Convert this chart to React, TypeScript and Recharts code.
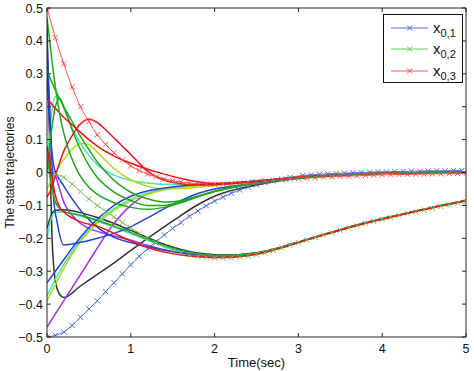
import React from 'react';
import { LineChart, Line, XAxis, YAxis } from 'recharts';

type Pt = [number, number];

const FONT = '"Liberation Sans", Arial, Helvetica, sans-serif';

const xTicks = [0, 1, 2, 3, 4, 5];
const yTicks = [-0.5, -0.4, -0.3, -0.2, -0.1, 0, 0.1, 0.2, 0.3, 0.4, 0.5];
const legendLabels = ['0,1', '0,2', '0,3'];

// ---- marked trajectories (x markers) ----
const redMarked: Pt[] = [[0,0.5],[0.1,0.41],[0.2,0.33],[0.3,0.26],[0.4,0.2],[0.5,0.155],[0.6,0.115],[0.7,0.085],[0.8,0.06],[0.9,0.038],[1.0,0.02],[1.1,0.006],[1.2,-0.005],[1.3,-0.013],[1.4,-0.02],[1.5,-0.025],[1.6,-0.029],[1.7,-0.032],[1.8,-0.034],[1.9,-0.035],[2.0,-0.036],[2.1,-0.035],[2.2,-0.034],[2.3,-0.032],[2.4,-0.03],[2.5,-0.028],[2.6,-0.026],[2.7,-0.024],[2.8,-0.022],[2.9,-0.02],[3.0,-0.019],[3.1,-0.017],[3.2,-0.016],[3.3,-0.014],[3.4,-0.013],[3.5,-0.012],[3.6,-0.011],[3.7,-0.01],[3.8,-0.009],[3.9,-0.008],[4.0,-0.007],[4.1,-0.007],[4.2,-0.006],[4.3,-0.006],[4.4,-0.005],[4.5,-0.005],[4.6,-0.004],[4.7,-0.004],[4.8,-0.003],[4.9,-0.003],[5.0,-0.003]];
const blueMarked: Pt[] = [[0,-0.5],[0.1,-0.495],[0.2,-0.485],[0.3,-0.465],[0.4,-0.44],[0.5,-0.415],[0.6,-0.39],[0.7,-0.362],[0.8,-0.335],[0.9,-0.308],[1.0,-0.28],[1.1,-0.255],[1.2,-0.232],[1.3,-0.21],[1.4,-0.19],[1.5,-0.17],[1.6,-0.152],[1.7,-0.133],[1.8,-0.117],[1.9,-0.101],[2.0,-0.087],[2.1,-0.075],[2.2,-0.063],[2.3,-0.053],[2.4,-0.044],[2.5,-0.037],[2.6,-0.031],[2.7,-0.025],[2.8,-0.02],[2.9,-0.015],[3.05,-0.009],[3.15,-0.007],[3.25,-0.005],[3.35,-0.004],[3.45,-0.003],[3.55,-0.002],[3.65,-0.001],[3.75,0],[3.85,0.001],[3.95,0.002],[4.05,0.002],[4.15,0.003],[4.25,0.003],[4.35,0.004],[4.45,0.004],[4.55,0.005],[4.65,0.005],[4.75,0.005],[4.85,0.006],[4.95,0.006]];
const greenMarked: Pt[] = [[0,0],[0.1,-0.005],[0.2,-0.015],[0.3,-0.035],[0.4,-0.058],[0.5,-0.08],[0.6,-0.1],[0.7,-0.118],[0.8,-0.135],[0.9,-0.152],[1.0,-0.168],[1.1,-0.185],[1.2,-0.2],[1.3,-0.214],[1.4,-0.226],[1.5,-0.236],[1.6,-0.244],[1.7,-0.25],[1.8,-0.255],[1.9,-0.258],[2.0,-0.26],[2.1,-0.26],[2.2,-0.259],[2.3,-0.257],[2.4,-0.254],[2.5,-0.25],[2.6,-0.244],[2.7,-0.237],[2.8,-0.229],[2.9,-0.221],[3.0,-0.213],[3.1,-0.205],[3.2,-0.198],[3.3,-0.19],[3.4,-0.183],[3.5,-0.176],[3.6,-0.169],[3.7,-0.162],[3.8,-0.155],[3.9,-0.149],[4.0,-0.143],[4.1,-0.137],[4.2,-0.131],[4.3,-0.125],[4.4,-0.119],[4.5,-0.114],[4.6,-0.109],[4.7,-0.103],[4.8,-0.098],[4.9,-0.093],[5.0,-0.088]];

// ---- unmarked trajectories ----
const redPeak: Pt[] = [[0,-0.075],[0.05,-0.05],[0.1,-0.01],[0.15,0.03],[0.2,0.065],[0.3,0.112],[0.4,0.148],[0.5,0.162],[0.6,0.152],[0.7,0.13],[0.8,0.105],[0.9,0.08],[1.0,0.055],[1.1,0.028],[1.2,0.004],[1.3,-0.012],[1.4,-0.024],[1.6,-0.034],[1.8,-0.038],[2.0,-0.037],[2.4,-0.03],[2.8,-0.02],[3.2,-0.012],[3.6,-0.006],[4.0,-0.002],[4.5,0],[5,0.002]];
const redDecay: Pt[] = [[0,0.225],[0.1,0.195],[0.2,0.168],[0.3,0.145],[0.4,0.122],[0.5,0.1],[0.6,0.08],[0.8,0.05],[1.0,0.028],[1.2,0.01],[1.4,-0.005],[1.6,-0.018],[1.8,-0.028],[2.0,-0.033],[2.4,-0.029],[2.8,-0.019],[3.2,-0.011],[3.6,-0.006],[4.0,-0.002],[4.5,0],[5,0.002]];
const redLow: Pt[] = [[0,0.08],[0.05,0.0],[0.1,-0.07],[0.15,-0.105],[0.2,-0.12],[0.3,-0.138],[0.4,-0.15],[0.6,-0.163],[0.8,-0.185],[1.0,-0.208],[1.2,-0.228],[1.4,-0.242],[1.6,-0.251],[1.8,-0.256],[2.0,-0.258],[2.2,-0.257],[2.4,-0.252],[2.6,-0.243],[2.8,-0.229],[3.0,-0.213],[3.4,-0.182],[3.8,-0.154],[4.2,-0.13],[4.6,-0.107],[5,-0.086]];
const blackDip: Pt[] = [[0,0.45],[0.03,0.1],[0.06,-0.2],[0.1,-0.33],[0.15,-0.37],[0.2,-0.38],[0.4,-0.345],[0.6,-0.31],[0.8,-0.275],[1.0,-0.237],[1.2,-0.2],[1.4,-0.165],[1.6,-0.13],[1.8,-0.098],[2.0,-0.072],[2.2,-0.055],[2.4,-0.043],[2.8,-0.024],[3.2,-0.012],[3.6,-0.006],[4.0,-0.002],[4.5,0],[5,0.002]];
const blackLow: Pt[] = [[0,-0.17],[0.05,-0.13],[0.1,-0.115],[0.2,-0.113],[0.4,-0.122],[0.6,-0.137],[0.8,-0.155],[1.0,-0.176],[1.2,-0.198],[1.4,-0.218],[1.6,-0.234],[1.8,-0.245],[2.0,-0.25],[2.2,-0.251],[2.4,-0.247],[2.6,-0.239],[2.8,-0.226],[3.0,-0.211],[3.4,-0.181],[3.8,-0.153],[4.2,-0.129],[4.6,-0.106],[5,-0.085]];
const blueCorner: Pt[] = [[0,0.4],[0.04,0.15],[0.08,-0.08],[0.12,-0.15],[0.2,-0.22],[0.3,-0.217],[0.45,-0.21],[0.63,-0.198],[0.8,-0.185],[1.0,-0.165],[1.2,-0.138],[1.4,-0.11],[1.6,-0.085],[1.8,-0.064],[2.0,-0.05],[2.2,-0.042],[2.4,-0.035],[2.8,-0.022],[3.2,-0.012],[3.6,-0.006],[4.0,-0.002],[4.5,0],[5,0.002]];
const blueRise: Pt[] = [[0,-0.335],[0.1,-0.3],[0.2,-0.265],[0.3,-0.23],[0.4,-0.197],[0.5,-0.168],[0.6,-0.142],[0.7,-0.12],[0.8,-0.1],[1.0,-0.072],[1.2,-0.056],[1.4,-0.047],[1.6,-0.041],[1.8,-0.037],[2.0,-0.035],[2.4,-0.028],[2.8,-0.019],[3.2,-0.011],[3.6,-0.006],[4.0,-0.002],[4.5,0],[5,0.002]];
const blueLow: Pt[] = [[0,0.3],[0.04,0.12],[0.08,0.02],[0.12,-0.01],[0.16,-0.025],[0.3,-0.08],[0.45,-0.13],[0.63,-0.172],[0.8,-0.197],[1.0,-0.213],[1.2,-0.226],[1.4,-0.236],[1.6,-0.244],[1.8,-0.249],[2.0,-0.252],[2.2,-0.252],[2.4,-0.248],[2.6,-0.24],[2.8,-0.227],[3.0,-0.212],[3.4,-0.182],[3.8,-0.153],[4.2,-0.129],[4.6,-0.106],[5,-0.085]];
const greenSteep: Pt[] = [[0,0.47],[0.05,0.36],[0.1,0.26],[0.15,0.18],[0.2,0.12],[0.25,0.075],[0.3,0.04],[0.35,0.012],[0.4,-0.012],[0.5,-0.045],[0.6,-0.066],[0.8,-0.092],[1.0,-0.106],[1.2,-0.112],[1.4,-0.106],[1.6,-0.092],[1.8,-0.074],[2.0,-0.058],[2.2,-0.046],[2.4,-0.037],[2.8,-0.023],[3.2,-0.013],[3.6,-0.006],[4.0,-0.002],[4.5,0],[5,0.002]];
const greenDecay: Pt[] = [[0,0.31],[0.1,0.25],[0.2,0.2],[0.3,0.155],[0.4,0.11],[0.5,0.07],[0.6,0.032],[0.7,0.002],[0.8,-0.024],[0.9,-0.044],[1.0,-0.06],[1.2,-0.08],[1.4,-0.09],[1.6,-0.086],[1.8,-0.072],[2.0,-0.057],[2.2,-0.045],[2.4,-0.036],[2.8,-0.022],[3.2,-0.012],[3.6,-0.006],[4.0,-0.002],[4.5,0],[5,0.002]];
const greenPeak: Pt[] = [[0,0.0],[0.05,0.12],[0.1,0.2],[0.15,0.225],[0.2,0.2],[0.3,0.13],[0.4,0.07],[0.5,0.022],[0.6,-0.015],[0.7,-0.04],[0.8,-0.06],[1.0,-0.085],[1.2,-0.1],[1.4,-0.1],[1.6,-0.088],[1.8,-0.072],[2.0,-0.058],[2.4,-0.037],[2.8,-0.022],[3.2,-0.012],[3.6,-0.006],[4.0,-0.002],[4.5,0],[5,0.002]];
const greenLow: Pt[] = [[0,0.05],[0.05,-0.03],[0.1,-0.09],[0.2,-0.118],[0.4,-0.13],[0.6,-0.145],[0.8,-0.163],[1.0,-0.182],[1.2,-0.203],[1.4,-0.222],[1.6,-0.237],[1.8,-0.247],[2.0,-0.252],[2.2,-0.252],[2.4,-0.248],[2.6,-0.24],[2.8,-0.227],[3.0,-0.212],[3.4,-0.182],[3.8,-0.153],[4.2,-0.129],[4.6,-0.106],[5,-0.085]];
const cyanPeak: Pt[] = [[0,0.0],[0.05,0.17],[0.1,0.23],[0.15,0.228],[0.2,0.195],[0.3,0.135],[0.4,0.088],[0.5,0.052],[0.6,0.024],[0.8,-0.008],[1.0,-0.024],[1.2,-0.032],[1.4,-0.036],[1.8,-0.037],[2.2,-0.033],[2.6,-0.024],[3.0,-0.015],[3.5,-0.007],[4.0,-0.002],[4.5,0],[5,0.002]];
const cyanRise: Pt[] = [[0,-0.375],[0.1,-0.325],[0.2,-0.28],[0.3,-0.24],[0.4,-0.205],[0.5,-0.176],[0.6,-0.15],[0.8,-0.11],[1.0,-0.081],[1.2,-0.062],[1.4,-0.05],[1.6,-0.043],[1.8,-0.039],[2.0,-0.036],[2.4,-0.028],[2.8,-0.019],[3.2,-0.011],[3.6,-0.006],[4.0,-0.002],[4.5,0],[5,0.002]];
const cyanLow: Pt[] = [[0,-0.2],[0.05,-0.14],[0.1,-0.12],[0.2,-0.12],[0.4,-0.133],[0.6,-0.148],[0.8,-0.166],[1.0,-0.186],[1.2,-0.206],[1.4,-0.225],[1.6,-0.24],[1.8,-0.249],[2.0,-0.253],[2.2,-0.253],[2.4,-0.249],[2.6,-0.241],[2.8,-0.228],[3.0,-0.212],[3.4,-0.182],[3.8,-0.153],[4.2,-0.129],[4.6,-0.106],[5,-0.085]];
const yellowPeak: Pt[] = [[0,-0.05],[0.1,0.0],[0.2,0.04],[0.3,0.07],[0.4,0.088],[0.5,0.085],[0.6,0.062],[0.7,0.036],[0.8,0.012],[1.0,-0.022],[1.2,-0.042],[1.4,-0.05],[1.6,-0.049],[1.8,-0.045],[2.0,-0.04],[2.4,-0.03],[2.8,-0.02],[3.2,-0.012],[3.6,-0.006],[4.0,-0.002],[4.5,0],[5,0.002]];
const yellowRise: Pt[] = [[0,-0.39],[0.1,-0.34],[0.2,-0.292],[0.3,-0.248],[0.4,-0.21],[0.5,-0.18],[0.6,-0.155],[0.8,-0.115],[1.0,-0.086],[1.2,-0.066],[1.4,-0.053],[1.6,-0.045],[1.8,-0.04],[2.0,-0.037],[2.4,-0.029],[2.8,-0.019],[3.2,-0.011],[3.6,-0.006],[4.0,-0.002],[4.5,0],[5,0.002]];
const purpleRise: Pt[] = [[0,-0.47],[0.1,-0.43],[0.2,-0.39],[0.3,-0.35],[0.4,-0.31],[0.5,-0.27],[0.6,-0.23],[0.7,-0.19],[0.8,-0.155],[0.9,-0.125],[1.0,-0.1],[1.1,-0.08],[1.2,-0.065],[1.4,-0.05],[1.6,-0.043],[1.8,-0.038],[2.0,-0.035],[2.4,-0.028],[2.8,-0.019],[3.2,-0.011],[3.6,-0.006],[4.0,-0.002],[4.5,0],[5,0.002]];
const purpleLow: Pt[] = [[0,0.02],[0.05,0.01],[0.1,-0.01],[0.15,-0.05],[0.2,-0.09],[0.3,-0.13],[0.4,-0.155],[0.5,-0.17],[0.7,-0.186],[1.0,-0.206],[1.2,-0.221],[1.4,-0.235],[1.6,-0.245],[1.8,-0.252],[2.0,-0.255],[2.2,-0.255],[2.4,-0.25],[2.6,-0.242],[2.8,-0.228],[3.0,-0.212],[3.4,-0.182],[3.8,-0.153],[4.2,-0.129],[4.6,-0.106],[5,-0.085]];

const C = {
  blue: '#2440dc',
  blueMk: '#4a6ae8',
  green: '#1ea81e',
  greenMk: '#7cc048',
  red: '#ee1414',
  redMk: '#ff4a4a',
  black: '#333333',
  cyan: '#46e6b0',
  yellow: '#b0dc18',
  purple: '#a030ee',
  lgBlue: '#4c6cf0',
  lgGreen: '#5cd05c',
  lgRed: '#ff5a5a',
  axis: '#222222',
};

const rows = (pts: Pt[]) => pts.map(([t, y]) => ({ t, y }));

const fmtY = (v: number) => (Math.abs(v) < 1e-9 ? '0' : (v < 0 ? '\u2212' : '') + Math.abs(v).toFixed(1));

const xMark = (color: string) => (p: any) => {
  const { cx, cy, index } = p;
  if (cx == null || cy == null) return <g key={`m${index}`} />;
  const s = 2.6;
  return (
    <path
      key={`m${index}`}
      d={`M${cx - s},${cy - s}L${cx + s},${cy + s}M${cx - s},${cy + s}L${cx + s},${cy - s}`}
      stroke={color}
      strokeWidth={1}
      fill="none"
    />
  );
};

const BottomTick = (p: any) => {
  const { x, y, payload } = p;
  const axisY = y - 4;
  return (
    <g>
      <line x1={x} x2={x} y1={axisY} y2={axisY - 4} stroke={C.axis} strokeWidth={1} />
      <text x={x} y={axisY + 16} textAnchor="middle" fontSize={12.5} fill="#111" fontFamily={FONT}>
        {payload.value}
      </text>
    </g>
  );
};

const LeftTick = (p: any) => {
  const { x, y, payload } = p;
  const axisX = x + 4;
  return (
    <g>
      <line x1={axisX} x2={axisX + 4} y1={y} y2={y} stroke={C.axis} strokeWidth={1} />
      <text x={x} y={y + 4.5} textAnchor="end" fontSize={12.5} fill="#111" fontFamily={FONT}>
        {fmtY(payload.value)}
      </text>
    </g>
  );
};

const TopTick = (p: any) => {
  const { x, y } = p;
  return <line x1={x} x2={x} y1={y} y2={y + 4} stroke={C.axis} strokeWidth={1} />;
};

const RightTick = (p: any) => {
  const { x, y } = p;
  return <line x1={x} x2={x - 4} y1={y} y2={y} stroke={C.axis} strokeWidth={1} />;
};

const YLabel = (p: any) => {
  const vb = p.viewBox || { x: 7, y: 8, width: 40, height: 329 };
  const cx = vb.x + 3;
  const cy = vb.y + vb.height / 2;
  return (
    <text
      x={cx}
      y={cy}
      transform={`rotate(-90, ${cx}, ${cy})`}
      textAnchor="middle"
      dominantBaseline="central"
      fontSize={12}
      fill="#111"
      fontFamily={FONT}
    >
      The state trajectories
    </text>
  );
};

const XLabel = (p: any) => {
  const vb = p.viewBox || { x: 47, y: 337, width: 419, height: 34 };
  return (
    <text x={vb.x + vb.width / 2} y={vb.y + 30} textAnchor="middle" fontSize={13} fill="#111" fontFamily={FONT}>
      Time(sec)
    </text>
  );
};

const plain = (key: string, pts: Pt[], color: string, width = 1.5) => (
  <Line
    key={key}
    data={rows(pts)}
    dataKey="y"
    type="monotone"
    stroke={color}
    strokeWidth={width}
    dot={false}
    activeDot={false}
    isAnimationActive={false}
  />
);

const markersOnly = (key: string, pts: Pt[], color: string) => (
  <Line
    key={key}
    data={rows(pts)}
    dataKey="y"
    type="monotone"
    stroke="none"
    strokeWidth={0}
    dot={xMark(color)}
    activeDot={false}
    isAnimationActive={false}
  />
);

const legendItems = [
  { sub: legendLabels[0], line: C.lgBlue, mk: C.blueMk },
  { sub: legendLabels[1], line: C.lgGreen, mk: C.greenMk },
  { sub: legendLabels[2], line: C.lgRed, mk: C.redMk },
];
const legendRowTop = [13, 34, 56];

export default function App() {
  return (
    <div style={{ position: 'absolute', left: 0, top: 0, width: 474, height: 371, background: '#fff' }}>
      <LineChart width={474} height={371} margin={{ top: 7, right: 7, left: 7, bottom: 0 }}>
        <XAxis
          dataKey="t"
          type="number"
          domain={[0, 5]}
          ticks={xTicks}
          interval={0}
          allowDataOverflow
          height={34}
          tickSize={0}
          tickMargin={4}
          tickLine={false}
          axisLine={{ stroke: C.axis }}
          tick={<BottomTick />}
          label={<XLabel />}
        />
        <XAxis
          xAxisId="top"
          orientation="top"
          dataKey="t"
          type="number"
          domain={[0, 5]}
          ticks={xTicks}
          interval={0}
          allowDataOverflow
          height={1}
          tickSize={0}
          tickMargin={0}
          tickLine={false}
          axisLine={{ stroke: C.axis }}
          tick={<TopTick />}
        />
        <YAxis
          type="number"
          domain={[-0.5, 0.5]}
          ticks={yTicks}
          interval={0}
          allowDataOverflow
          width={40}
          tickSize={0}
          tickMargin={4}
          tickLine={false}
          axisLine={{ stroke: C.axis }}
          tick={<LeftTick />}
          label={<YLabel />}
        />
        <YAxis
          yAxisId="right"
          orientation="right"
          type="number"
          domain={[-0.5, 0.5]}
          ticks={yTicks}
          interval={0}
          allowDataOverflow
          width={1}
          tickSize={0}
          tickMargin={0}
          tickLine={false}
          axisLine={{ stroke: C.axis }}
          tick={<RightTick />}
        />

        {/* invisible series bound to the top/right frame axes so they render */}
        <Line
          xAxisId="top"
          yAxisId="right"
          data={rows(greenMarked)}
          dataKey="y"
          stroke="none"
          strokeWidth={0}
          dot={false}
          activeDot={false}
          isAnimationActive={false}
        />

        {plain('bm', blueMarked, C.blueMk, 1)}
        {plain('gm', greenMarked, C.greenMk, 1)}
        {plain('rm', redMarked, C.redMk, 1)}

        {plain('bd', blackDip, C.black)}
        {plain('bl', blackLow, C.black)}
        {plain('pr', purpleRise, C.purple)}
        {plain('pl', purpleLow, C.purple)}
        {plain('cr', cyanRise, C.cyan)}
        {plain('cl', cyanLow, C.cyan)}
        {plain('yr', yellowRise, C.yellow)}
        {plain('cp', cyanPeak, C.cyan)}
        {plain('yp', yellowPeak, C.yellow)}
        {plain('br', blueRise, C.blue)}
        {plain('bc', blueCorner, C.blue)}
        {plain('blo', blueLow, C.blue)}
        {plain('gl', greenLow, C.green)}
        {plain('gp', greenPeak, C.green)}
        {plain('gd', greenDecay, C.green)}
        {plain('rp', redPeak, C.red)}
        {plain('rd', redDecay, C.red)}
        {plain('rl', redLow, C.red)}
        {plain('gs', greenSteep, C.green)}

        {markersOnly('bmk', blueMarked, C.blueMk)}
        {markersOnly('gmk', greenMarked, C.greenMk)}
        {markersOnly('rmk', redMarked, C.redMk)}
      </LineChart>

      <div
        style={{
          position: 'absolute',
          left: 383,
          top: 14,
          width: 80,
          height: 69,
          border: '1.5px solid #111',
          background: '#fff',
          boxSizing: 'border-box',
          fontFamily: FONT,
          color: '#111',
        }}
      >
        {legendItems.map((it, i) => (
          <div key={i} style={{ position: 'absolute', left: 0, top: legendRowTop[i] - 10, width: '100%', height: 20 }}>
            <svg style={{ position: 'absolute', left: 7, top: 0 }} width={38} height={20}>
              <line x1={0} x2={37} y1={10} y2={10} stroke={it.line} strokeWidth={1} />
              <path d="M16,7.4L21.2,12.6M16,12.6L21.2,7.4" stroke={it.mk} strokeWidth={1} fill="none" />
            </svg>
            <span style={{ position: 'absolute', left: 49, top: 1.5, fontSize: 15, lineHeight: '15px', whiteSpace: 'nowrap' }}>
              x<span style={{ fontSize: 11, position: 'relative', top: 4 }}>{it.sub}</span>
            </span>
          </div>
        ))}
      </div>
    </div>
  );
}
